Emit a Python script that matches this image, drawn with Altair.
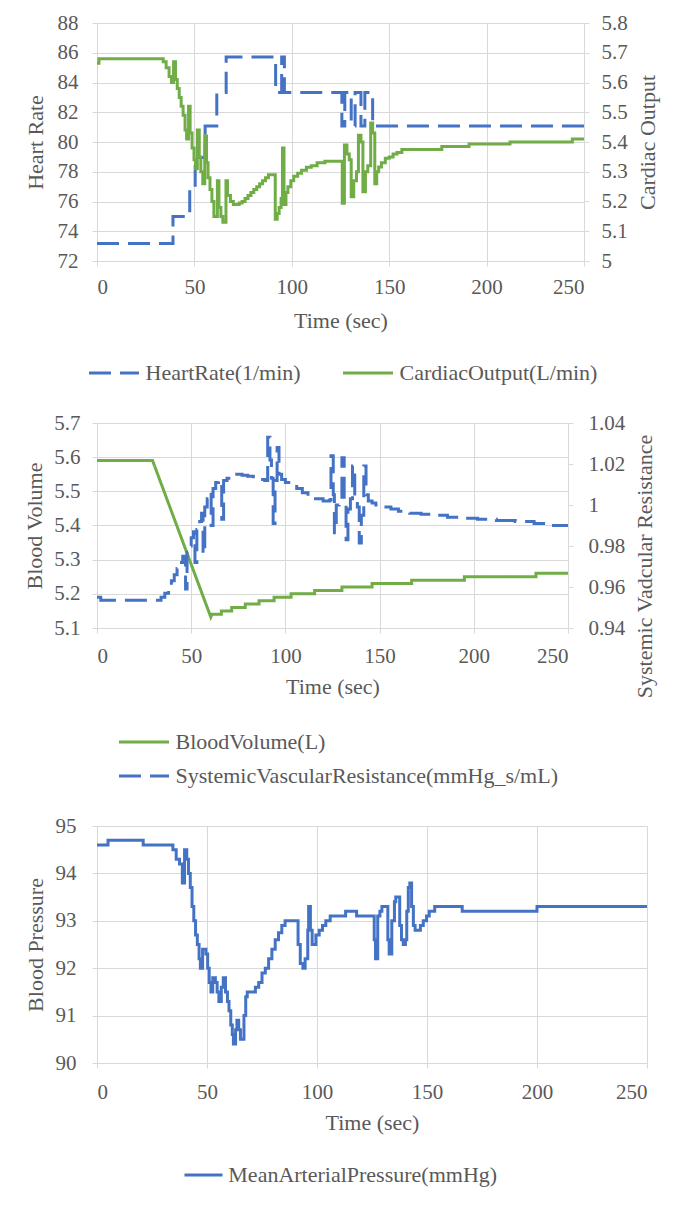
import altair as alt
import pandas as pd

FONT = "Liberation Serif"
BLUE = "#4472C4"
GREEN = "#70AD47"
GRID = "#d9d9d9"
TXT = "#595959"

time_ticks = [0, 50, 100, 150, 200, 250]

# ---------- Panel 1 : Heart rate / Cardiac output ----------
hr_name = "HeartRate(1/min)"
co_name = "CardiacOutput(L/min)"
hr_ticks = [72, 74, 76, 78, 80, 82, 84, 86, 88]
co_ticks = [5, 5.1, 5.2, 5.3, 5.4, 5.5, 5.6, 5.7, 5.8]

hr_t = [0, 39, 47.6, 50.4, 55.5, 61.5, 66.3, 91.7, 94.8, 96.2, 125.7, 127.2,
        130.5, 132.5, 135.5, 137.5, 141.5, 250]
hr_v = [73.17, 75.0, 76.92, 78.95, 81.08, 83.33, 85.71, 83.33, 85.71, 83.33,
        81.08, 83.33, 81.08, 83.33, 81.08, 83.33, 81.08, 81.08]

co_t = [0, 1, 34, 35.5, 37, 38.2, 39.3, 40.3, 41.2, 42.2, 43.2, 44.2, 45.2, 46,
        47, 47.8, 48.8, 49.8, 50.6, 51.5, 52.5, 53.3, 54.3, 55.3, 56.2, 57, 58,
        59, 60, 61.8, 62.6, 63.6, 64.6, 66.2, 67, 68.5, 70, 73, 74.5, 76, 77.5,
        79, 80.5, 82, 83.5, 85, 86.5, 88, 91.5, 92.5, 93.5, 94.5, 95.2, 96, 97,
        98, 99.5, 101, 103, 105, 107.5, 110, 113, 117, 125.9, 127, 128.3, 129.5,
        130.5, 131.8, 133.2, 134.2, 135.5, 136.5, 137.8, 139, 140.5, 141.5,
        142.6, 143.6, 144.6, 146, 148, 150, 152, 154, 156.5, 177, 191, 212, 244,
        250]
co_v = [5.665, 5.68, 5.67, 5.65, 5.62, 5.60, 5.67, 5.61, 5.58, 5.55, 5.52, 5.49,
        5.44, 5.41, 5.52, 5.43, 5.38, 5.34, 5.31, 5.44, 5.35, 5.30, 5.26, 5.42,
        5.33, 5.28, 5.24, 5.20, 5.15, 5.27, 5.18, 5.15, 5.13, 5.27, 5.22, 5.20,
        5.19, 5.195, 5.20, 5.21, 5.22, 5.23, 5.24, 5.25, 5.26, 5.27, 5.28, 5.29,
        5.14, 5.16, 5.18, 5.21, 5.38, 5.19, 5.23, 5.25, 5.27, 5.285, 5.295,
        5.305, 5.315, 5.32, 5.33, 5.335, 5.194, 5.39, 5.36, 5.34, 5.216, 5.27,
        5.30, 5.423, 5.40, 5.233, 5.30, 5.32, 5.464, 5.43, 5.26, 5.30, 5.316,
        5.33, 5.345, 5.35, 5.36, 5.365, 5.375, 5.385, 5.393, 5.40, 5.41, 5.41]

# ---------- Panel 2 : Blood volume / SVR ----------
bv_name = "BloodVolume(L)"
svr_name = "SystemicVascularResistance(mmHg_s/mL)"
bv_ticks = [5.1, 5.2, 5.3, 5.4, 5.5, 5.6, 5.7]
svr_ticks = [0.94, 0.96, 0.98, 1.0, 1.02, 1.04]

bv_t = [0, 29.5, 60.4, 61, 66, 66, 71.5, 71.5, 78.7, 78.7, 86, 86, 94, 94, 103,
        103, 115.5, 115.5, 130, 130, 146, 146, 167, 167, 195, 195, 233, 233, 250]
bv_v = [5.59, 5.59, 5.132, 5.14, 5.14, 5.15, 5.15, 5.16, 5.16, 5.17, 5.17, 5.18,
        5.18, 5.19, 5.19, 5.20, 5.20, 5.21, 5.21, 5.22, 5.22, 5.23, 5.23, 5.24,
        5.24, 5.25, 5.25, 5.26, 5.26]

svr_t = [0, 2, 32.5, 34, 36, 38, 39.5, 41, 42.5, 44, 45.5, 47, 47.8, 48.8, 50,
         51.2, 52, 53, 54.5, 55.5, 56.3, 57.2, 58.5, 59.5, 60.6, 61.6, 63, 64.5,
         66.2, 67.2, 69, 71, 73, 77, 80, 83, 86, 89, 90.6, 91.8, 92.6, 93.5, 94.5,
         95.6, 96.6, 98, 100, 103, 106, 109, 112, 116, 120, 123.5, 124.2, 125.4,
         126, 127, 128.5, 130, 131.2, 132.2, 133.2, 134.5, 135.6, 136.8, 138.2,
         139.2, 140.3, 141.6, 142.8, 144, 146, 148, 152, 156, 160, 166, 172, 180,
         186, 194, 202, 212, 222, 232, 240, 250]
svr_v = [0.955, 0.9535, 0.9535, 0.955, 0.957, 0.960, 0.963, 0.966, 0.969, 0.972,
         0.975, 0.959, 0.977, 0.980, 0.984, 0.987, 0.972, 0.988, 0.992, 0.996,
         0.976, 0.999, 1.003, 1.006, 0.990, 1.008, 1.011, 1.012, 0.993, 1.012,
         1.013, 1.0145, 1.015, 1.0145, 1.014, 1.013, 1.0125, 1.012, 1.033, 1.022,
         1.013, 0.991, 1.012, 1.028, 1.015, 1.0125, 1.011, 1.010, 1.008, 1.006,
         1.0045, 1.003, 1.002, 1.0025, 1.024, 1.005, 0.9865, 1.000, 1.002, 1.023,
         1.001, 0.983, 0.998, 1.003, 1.019, 1.003, 0.999, 0.9815, 0.995, 1.019,
         1.005, 1.002, 1.001, 1.000, 0.999, 0.998, 0.997, 0.996, 0.9955, 0.995,
         0.994, 0.9935, 0.993, 0.9925, 0.992, 0.991, 0.990, 0.990]

# ---------- Panel 3 : Mean arterial pressure ----------
map_name = "MeanArterialPressure(mmHg)"
map_ticks = [90, 91, 92, 93, 94, 95]
map_t = [0, 5, 21, 34.5, 36, 37.5, 38.8, 39.8, 40.8, 41.6, 42.4, 43.2, 44, 44.8,
         45.6, 46.4, 47, 48, 49.5, 50.3, 51, 51.8, 52.6, 53.8, 54.6, 55.4, 56.5,
         57.4, 58.4, 59.3, 60, 60.8, 61.5, 62, 63, 63.6, 64.4, 65.2, 66.8, 67.6,
         68.3, 72, 73.5, 75, 76.5, 78, 79.5, 81, 82.5, 84, 85.5, 91.4, 92.4, 93.6,
         94.6, 95.8, 96.2, 97, 97.8, 99.5, 101, 102.5, 104, 106, 113, 118, 126,
         126.6, 127.6, 128.6, 129.5, 132.2, 132.8, 134, 135.2, 135.8, 137.6,
         138.4, 139.2, 140.2, 140.8, 141.5, 142.2, 143, 143.8, 144.6, 147, 148.3,
         149.8, 151, 153.5, 166, 200, 250]
map_v = [94.6, 94.7, 94.6, 94.5, 94.3, 94.2, 93.8, 94.5, 94.3, 94.0, 93.7, 93.3,
         93.0, 92.7, 92.5, 92.2, 92.0, 92.4, 92.3, 92.0, 91.7, 91.5, 91.8, 91.7,
         91.5, 91.3, 91.6, 91.8, 91.5, 91.3, 91.1, 90.8, 90.6, 90.4, 90.7, 90.9,
         90.7, 90.5, 91.0, 91.4, 91.5, 91.6, 91.7, 91.9, 92.0, 92.2, 92.4, 92.6,
         92.75, 92.9, 93.0, 92.5, 92.1, 92.0, 92.2, 92.8, 93.3, 92.8, 92.5, 92.7,
         92.8, 92.9, 93.0, 93.1, 93.2, 93.1, 92.6, 92.2, 93.1, 93.2, 93.3, 92.6,
         92.3, 93.0, 93.4, 93.5, 92.9, 92.6, 92.5, 92.6, 93.2, 93.7, 93.8, 93.3,
         92.9, 92.8, 92.9, 93.0, 93.1, 93.2, 93.3, 93.2, 93.3, 93.3]

# ---------- data frames ----------
df_hr = pd.DataFrame({"t": hr_t, "v": hr_v, "s": hr_name})
df_co = pd.DataFrame({"t": co_t, "v": co_v, "s": co_name})
df_bv = pd.DataFrame({"t": bv_t, "v": bv_v, "s": bv_name, "i": range(len(bv_t))})
df_svr = pd.DataFrame({"t": svr_t, "v": svr_v, "s": svr_name})
df_map = pd.DataFrame({"t": map_t, "v": map_v, "s": map_name})

DASH = [22, 9]
SOLID = [1, 0]
LINE_SYMBOL = "M-2,0L2,0"   # wide legend stroke symbol


def x_enc(label_pad, title_pad):
    return alt.X(
        "t:Q",
        scale=alt.Scale(domain=[0, 250], nice=False, zero=False),
        axis=alt.Axis(values=time_ticks, title="Time (sec)", grid=True,
                      labelPadding=label_pad, titlePadding=title_pad),
    )


def legend(x, y, direction, size, label_offset, col_pad=10, row_pad=2):
    return alt.Legend(
        title=None, orient="none", legendX=x, legendY=y, direction=direction,
        symbolType=LINE_SYMBOL, symbolSize=size, symbolStrokeWidth=3,
        labelFont=FONT, labelFontSize=22, labelColor=TXT, labelOffset=label_offset,
        columnPadding=col_pad, rowPadding=row_pad, labelLimit=500,
    )


# Panel 1
leg1 = legend(3, 336, "horizontal", 625, 17.5, col_pad=36)
dom1 = [hr_name, co_name]
c1 = alt.Color("s:N", scale=alt.Scale(domain=dom1, range=[BLUE, GREEN]), legend=leg1)
d1 = alt.StrokeDash("s:N", scale=alt.Scale(domain=dom1, range=[DASH, SOLID]), legend=leg1)

hr_line = alt.Chart(df_hr).mark_line(interpolate="step-after", strokeWidth=3).encode(
    x=x_enc(10, 13),
    y=alt.Y("v:Q", scale=alt.Scale(domain=[72, 88], nice=False, zero=False),
            axis=alt.Axis(orient="left", values=hr_ticks, title="Heart Rate",
                          grid=True, labelPadding=14, titlePadding=10)),
    color=c1, strokeDash=d1,
)
co_line = alt.Chart(df_co).mark_line(interpolate="step-after", strokeWidth=3).encode(
    x=x_enc(10, 13),
    y=alt.Y("v:Q", scale=alt.Scale(domain=[5, 5.8], nice=False, zero=False),
            axis=alt.Axis(orient="right", values=co_ticks, format=".1~f",
                          title="Cardiac Output", grid=False, labelPadding=12,
                          titlePadding=10, titleAngle=270, titleBaseline="top")),
    color=c1, strokeDash=d1,
)
p1 = alt.layer(hr_line, co_line).resolve_scale(y="independent").properties(
    width=487, height=238)

# Panel 2
leg2 = legend(33, 305, "vertical", 625, 17.5, row_pad=9)
dom2 = [bv_name, svr_name]
c2 = alt.Color("s:N", scale=alt.Scale(domain=dom2, range=[GREEN, BLUE]), legend=leg2)
d2 = alt.StrokeDash("s:N", scale=alt.Scale(domain=dom2, range=[SOLID, DASH]), legend=leg2)

bv_line = alt.Chart(df_bv).mark_line(strokeWidth=3).encode(
    x=x_enc(12, 10),
    y=alt.Y("v:Q", scale=alt.Scale(domain=[5.1, 5.7], nice=False, zero=False),
            axis=alt.Axis(orient="left", values=bv_ticks, format=".1~f",
                          title="Blood Volume", grid=True, labelPadding=12,
                          titlePadding=7)),
    order="i:Q", color=c2, strokeDash=d2,
)
svr_line = alt.Chart(df_svr).mark_line(interpolate="step-after", strokeWidth=3).encode(
    x=x_enc(12, 10),
    y=alt.Y("v:Q", scale=alt.Scale(domain=[0.94, 1.04], nice=False, zero=False),
            axis=alt.Axis(orient="right", values=svr_ticks, format=".2~f",
                          title="Systemic Vadcular Resistance", grid=False,
                          labelPadding=15, titlePadding=10, titleAngle=270,
                          titleBaseline="top", titleY=143)),
    color=c2, strokeDash=d2,
)
p2 = alt.layer(bv_line, svr_line).resolve_scale(y="independent").properties(
    width=471, height=205)

# Panel 3
leg3 = legend(95.5, 338, "horizontal", 361, 13.8)
map_line = alt.Chart(df_map).mark_line(interpolate="step-after", strokeWidth=3).encode(
    x=x_enc(13, 10),
    y=alt.Y("v:Q", scale=alt.Scale(domain=[90, 95], nice=False, zero=False),
            axis=alt.Axis(orient="left", values=map_ticks, title="Blood Pressure",
                          grid=True, labelPadding=16, titlePadding=8)),
    color=alt.Color("s:N", scale=alt.Scale(domain=[map_name], range=[BLUE]), legend=leg3),
)
p3 = map_line.properties(width=550, height=237)

chart = (
    alt.vconcat(p1, p2, p3, spacing=28)
    .resolve_scale(color="independent", strokeDash="independent")
    .properties(padding={"left": 15, "top": 4, "right": 5, "bottom": 5},
                background="white")
    .configure(font=FONT)
    .configure_view(strokeWidth=0)
    .configure_legend(labelFont=FONT, labelFontSize=22, labelColor=TXT)
    .configure_axis(
        labelFont=FONT, labelFontSize=21, labelColor=TXT,
        titleFont=FONT, titleFontSize=22, titleColor=TXT, titleFontWeight="normal",
        gridColor=GRID, gridWidth=1, domainColor=GRID, domainWidth=1,
        tickColor=GRID, tickSize=5, tickWidth=1,
    )
)

chart.save("out.html", embed_options={"renderer": "svg", "actions": False})
